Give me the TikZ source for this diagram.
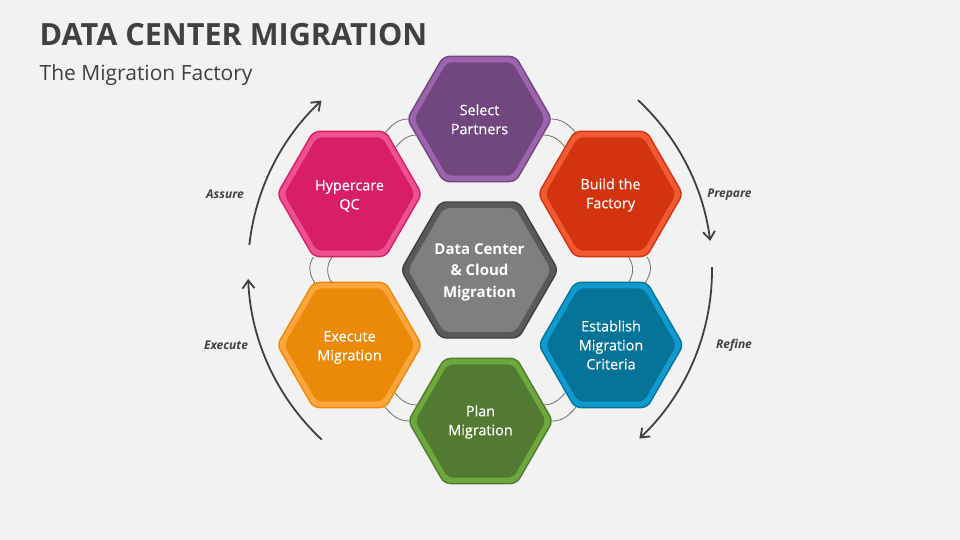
\documentclass[tikz,border=0pt]{standalone}
\usepackage{fontspec}
\setmainfont{Open Sans}
\newfontfamily\medfont[FakeBold=0.25]{Open Sans}
\usetikzlibrary{shapes.geometric,arrows.meta,calc}
\definecolor{bgc}{HTML}{F2F2F2}
\definecolor{ink}{HTML}{404040}
\definecolor{linkc}{HTML}{707070}
\tikzset{
  hexbase/.style={regular polygon,regular polygon sides=6,inner sep=0pt,outer sep=0pt,rounded corners=6pt},
  hexouter/.style={hexbase,minimum size=#1,line width=1.4pt},
  hexinner/.style={hexbase,minimum size=#1},
  hexlabel/.style={inner sep=0pt,text=white,align=center,font=\medfont\fontsize{14.4}{19}\selectfont},
  linkarc/.style={draw=linkc,line width=.8pt},
  bigarrow/.style={draw=ink,line width=1.8pt,-{Straight Barb[length=8pt,width=12pt,line width=1.8pt]}},
  phase/.style={text=ink,font=\fontsize{12}{14}\selectfont\bfseries\itshape,inner sep=0pt},
}
% name, x, y, label y, main, ring, text
\newcommand{\hexcell}[7]{%
  \definecolor{mc}{HTML}{#5}\definecolor{rc}{HTML}{#6}%
  \node[hexouter=144.5,draw=mc,fill=rc] (#1) at (#2,#3) {};
  \node[hexinner=131,fill=mc] (#1i) at (#2,#3) {};
  \node[hexlabel] (#1t) at (#2,#4) {#7};
}
\begin{document}
\begin{tikzpicture}[x=1pt,y=-1pt]
\useasboundingbox (0,0) rectangle (960,540);
\fill[bgc] (0,0) rectangle (960,540);
\node[anchor=base west,inner sep=0pt,text=ink,font=\fontsize{30.6}{36}\selectfont\bfseries] (title) at (39.5,46) {DATA CENTER MIGRATION};
\node[anchor=base west,inner sep=0pt,text=ink,font=\fontsize{21}{24}\selectfont] (subtitle) at (39.5,81) {The Migration Factory};

\hexcell{sel}{479.5}{119}{119.3}{724780}{9B64AC}{Select\\Partners}
\hexcell{bui}{610.5}{194}{195}{D4330F}{F15A33}{Build the\\Factory}
\hexcell{est}{611}{345}{345}{067399}{0F9BD0}{Establish\\Migration\\Criteria}
\hexcell{pla}{480.5}{421}{422}{527A30}{6EA83C}{Plan\\Migration}
\hexcell{exe}{349.5}{345}{347.5}{EA8A08}{FFA53D}{Execute\\Migration}
\hexcell{hyp}{349.5}{194}{196}{D81E68}{EE5090}{Hypercare\\QC}
\definecolor{mc}{HTML}{7F7F7F}\definecolor{rc}{HTML}{595959}\definecolor{bc}{HTML}{404040}
\node[hexouter=157,draw=bc,fill=rc] (cen) at (479.5,270) {};
\node[hexinner=143,fill=mc] (ceni) at (479.5,270) {};
\node[hexlabel,font=\fontsize{15}{21.5}\selectfont\bfseries] (cent) at (479.5,272) {Data Center\\\& Cloud\\Migration};

% small arcs between neighbouring hexagons
\draw[linkarc] ($(sel)+(-71,0)$) to[out=180,in=50] ($(hyp)+(35.5,-61)$);
\draw[linkarc] ($(sel)+(-62.5,16)$) to[out=180,in=50] ($(hyp)+(45.5,-46)$);
\draw[linkarc] ($(sel)+(71,0)$) to[out=0,in=130] ($(bui)+(-35.5,-62)$);
\draw[linkarc] ($(sel)+(63.5,16)$) to[out=0,in=130] ($(bui)+(-45.5,-47)$);
\draw[linkarc] ($(hyp)+(-36,63)$) to[out=235,in=125] ($(exe)+(-34.5,-62)$);
\draw[linkarc] ($(hyp)+(-17.5,63)$) to[out=235,in=125] ($(exe)+(-17.5,-62)$);
\draw[linkarc] ($(bui)+(18,63)$) to[out=-55,in=55] ($(est)+(17,-62)$);
\draw[linkarc] ($(bui)+(36.5,63)$) to[out=-55,in=55] ($(est)+(34,-62)$);
\draw[linkarc] ($(exe)+(45.5,48)$) to[out=-50,in=180] ($(pla)+(-63.5,-16)$);
\draw[linkarc] ($(exe)+(35.5,62)$) to[out=-50,in=180] ($(pla)+(-71.5,0)$);
\draw[linkarc] ($(est)+(-46,48)$) to[out=230,in=0] ($(pla)+(62.5,-16)$);
\draw[linkarc] ($(est)+(-35,62)$) to[out=230,in=0] ($(pla)+(71.5,0)$);

% big arrows around the ring
\coordinate (c) at (480,270);
\draw[bigarrow] ($(c)+(-47.1:232)$) arc[start angle=-47.1,end angle=-7.2,radius=232];
\draw[bigarrow] ($(c)+(-0.7:232)$) arc[start angle=-0.7,end angle=46.6,radius=232];
\draw[bigarrow] ($(c)+(133:232)$) arc[start angle=133,end angle=177.8,radius=232];
\draw[bigarrow] ($(c)+(186.2:232)$) arc[start angle=186.2,end angle=226.9,radius=232];

\node[phase] (lprep) at (729.5,194.5) {Prepare};
\node[phase] (lref) at (734,345.3) {Refine};
\node[phase] (lexe) at (226,345.3) {Execute};
\node[phase] (lass) at (225,194.5) {Assure};
\end{tikzpicture}
\end{document}
